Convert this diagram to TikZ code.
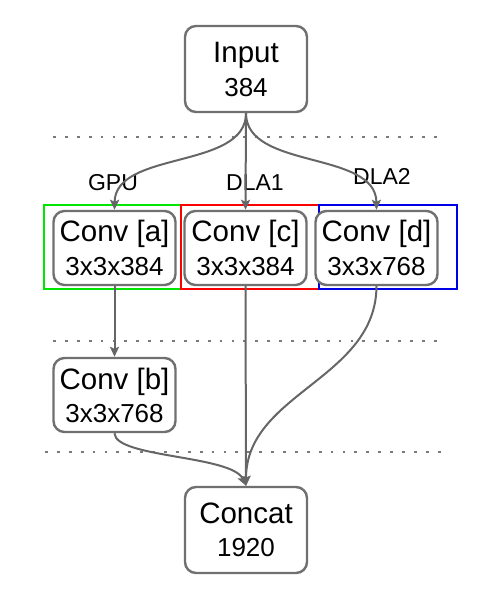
\documentclass[tikz,border=0pt]{standalone}
\usepackage{fontspec}
\setmainfont{Liberation Sans}
\usetikzlibrary{arrows.meta}
\definecolor{lgray}{HTML}{666666}
\definecolor{bgray}{HTML}{707070}
\definecolor{dgray}{HTML}{7A7A7A}
\tikzset{
  x=1pt, y=-1pt,
  box/.style={draw=bgray, line width=2.4pt, rounded corners=11pt, align=center, inner sep=0pt, fill=white, font=\fontsize{26}{34}\selectfont},
  bigbox/.style={box, minimum width=122pt, minimum height=86pt},
  convbox/.style={box, minimum width=122pt, minimum height=74pt},
  conn/.style={draw=lgray, line width=2pt, -{Stealth[length=10pt,width=9pt,inset=2pt]}},
  sep/.style={draw=dgray, line width=2.8pt, dash pattern=on 2.8pt off 9.1pt},
  lab/.style={font=\fontsize{23}{26}\selectfont, anchor=base},
  frame/.style={line width=1.4pt},
}
\newcommand{\first}[1]{{\fontsize{29.5}{34}\selectfont #1}}
\newcommand{\second}[1]{{\fontsize{26}{34}\selectfont #1}}
\begin{document}
\begin{tikzpicture}
\useasboundingbox (0,0) rectangle (487,604);
% separators
\draw[sep] (53,137) -- (445,137);
\draw[sep] (53,341) -- (445,341);
\draw[sep] (45,452) -- (445,452);
% colored frames
\draw[frame, draw={rgb,255:red,0;green,230;blue,0}] (44,205) rectangle (181,289);
\draw[frame, draw=red] (181,205) rectangle (319,289);
\draw[frame, draw={rgb,255:red,0;green,0;blue,230}] (319,205) rectangle (457,289);
% nodes
\node[bigbox] (input) at (246,69) {\first{Input}\\\second{384}};
\node[convbox] (ca) at (114.5,248) {\first{Conv [a]}\\\second{3x3x384}};
\node[convbox] (cc) at (245.5,248) {\first{Conv [c]}\\\second{3x3x384}};
\node[convbox] (cd) at (376.5,248) {\first{Conv [d]}\\\second{3x3x768}};
\node[convbox] (cb) at (114.5,395) {\first{Conv [b]}\\[-1pt]\second{3x3x768}};
\node[bigbox] (concat) at (246,530) {\first{Concat}\\[-1pt]\second{1920}};
% labels
\node[lab] (lgpu) at (113,190) {GPU};
\node[lab] (ldla1) at (255,190) {DLA1};
\node[lab] (ldla2) at (382,184) {DLA2};
% connectors
\draw[conn] (input.south) .. controls (246,170) and (115,150) .. (ca.north);
\draw[conn] (input.south) -- (cc.north);
\draw[conn] (input.south) .. controls (246,170) and (376,150) .. (cd.north);
\draw[conn] (ca.south) -- (cb.north);
\draw[conn] (cb.south) .. controls (115,458) and (232,455) .. (concat.north);
\draw[conn] (cc.south) -- (concat.north);
\draw[conn] (cd.south) .. controls (376,379) and (246,393) .. (concat.north);
\end{tikzpicture}
\end{document}
